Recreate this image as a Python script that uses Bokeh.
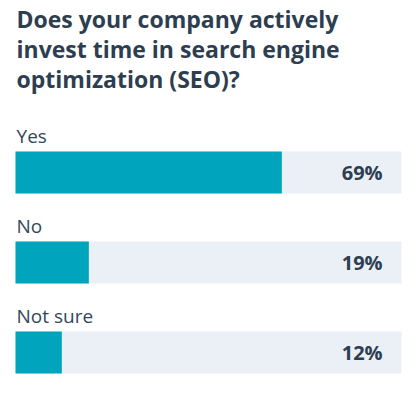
from bokeh.plotting import figure
from bokeh.models import Range1d, ColumnDataSource
from bokeh.core.properties import value
from bokeh.embed import file_html
from bokeh.resources import INLINE

title_lines = ["Does your company actively", "invest time in search engine", "optimization (SEO)?"]
categories = ["Yes", "No", "Not sure"]
percents = [69, 19, 12]
pct_labels = ["69%", "19%", "12%"]

# layout (screen-pixel-like y coordinates; y axis flipped)
row0, row_step, bar_h = 172, 90, 42
base_fix = 7
ys = [row0 + i * row_step for i in range(len(categories))]
src = ColumnDataSource(dict(
    cat=categories, pct=percents, lab=pct_labels, y=ys,
    full=[100] * len(categories),
    ylab=[y - bar_h / 2 - 9 - base_fix for y in ys],
))

FONT = "Open Sans"
p = figure(width=402, height=377, output_backend="svg", toolbar_location=None,
           x_range=Range1d(-3.886, 100.26), y_range=Range1d(377, 0),
           min_border=0, background_fill_color="white")
p.axis.visible = False
p.grid.visible = False
p.outline_line_color = None

p.hbar(y="y", left=0, right="full", height=bar_h, source=src,
       fill_color="#eaf0f6", line_color=None)
p.hbar(y="y", left=0, right="pct", height=bar_h, source=src,
       fill_color="#00a4bd", line_color=None)

p.text(x=0.26, y="ylab", text="cat", source=src, text_font=value(FONT),
       text_font_size="19px", text_color="#33475b", text_baseline="alphabetic")
p.text(x=95.1, y="y", text="lab", source=src, text_font=value(FONT),
       text_font_size="20px", text_font_style="bold", text_color="#2d3e50",
       text_align="right", text_baseline="middle")

tsrc = ColumnDataSource(dict(t=title_lines, y=[25 - base_fix + 30 * i for i in range(len(title_lines))]))
p.text(x=0.26, y="y", text="t", source=tsrc, text_font=value(FONT),
       text_font_size="23px", text_font_style="bold", text_color="#2d3e50",
       text_baseline="alphabetic")

open("out.html", "w").write(file_html(p, INLINE))
